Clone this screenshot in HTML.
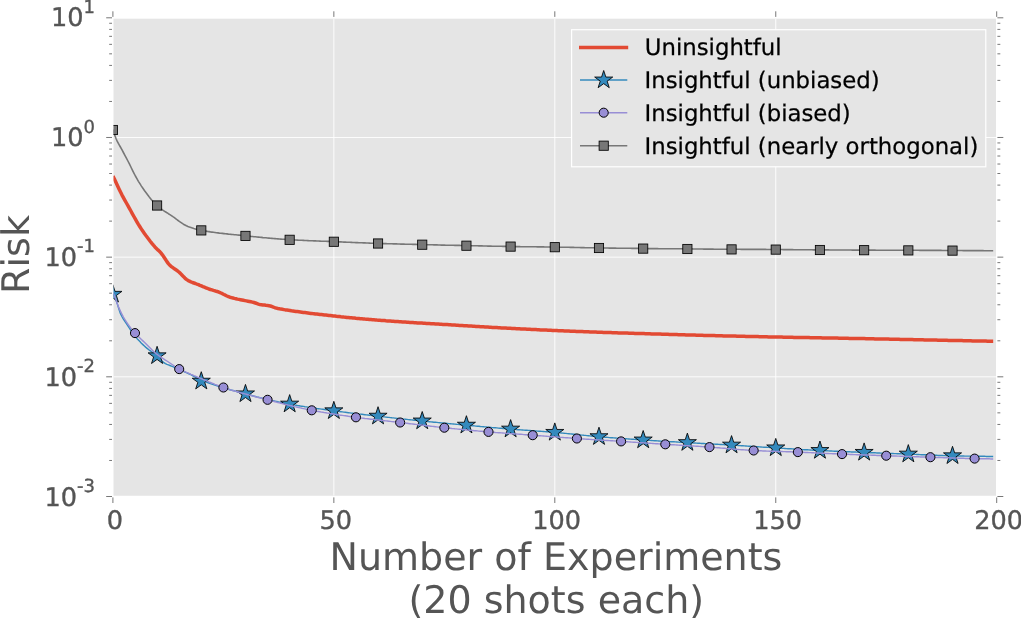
<!DOCTYPE html>
<html><head><meta charset="utf-8"><title>Risk vs Number of Experiments</title>
<style>html,body{margin:0;padding:0;background:#fff;}body{width:1021px;height:618px;overflow:hidden;}svg{display:block;}text{font-family:"DejaVu Sans","Liberation Sans",sans-serif;text-rendering:geometricPrecision;}</style></head><body>
<svg width="1021" height="618" viewBox="0 0 1021 618">
<rect x="0" y="0" width="1021" height="618" fill="#fff"/>
<defs><clipPath id="ax"><rect x="113.50" y="18.70" width="882.50" height="477.05"/></clipPath></defs>
<rect x="113.50" y="18.70" width="882.50" height="477.05" fill="#E5E5E5"/>
<g stroke="#fff" stroke-width="0.9" clip-path="url(#ax)">
<line x1="333.85" y1="18.70" x2="333.85" y2="495.75"/>
<line x1="554.80" y1="18.70" x2="554.80" y2="495.75"/>
<line x1="775.75" y1="18.70" x2="775.75" y2="495.75"/>
<line x1="113.50" y1="137.47" x2="996.00" y2="137.47"/>
<line x1="113.50" y1="257.15" x2="996.00" y2="257.15"/>
<line x1="113.50" y1="376.82" x2="996.00" y2="376.82"/>
</g>
<g stroke="#4a4a4a" stroke-width="0.75">
<line x1="112.90" y1="497.40" x2="112.90" y2="503.00"/>
<line x1="112.90" y1="16.90" x2="112.90" y2="11.30"/>
<line x1="333.85" y1="497.40" x2="333.85" y2="503.00"/>
<line x1="333.85" y1="16.90" x2="333.85" y2="11.30"/>
<line x1="554.80" y1="497.40" x2="554.80" y2="503.00"/>
<line x1="554.80" y1="16.90" x2="554.80" y2="11.30"/>
<line x1="775.75" y1="497.40" x2="775.75" y2="503.00"/>
<line x1="775.75" y1="16.90" x2="775.75" y2="11.30"/>
<line x1="996.70" y1="497.40" x2="996.70" y2="503.00"/>
<line x1="996.70" y1="16.90" x2="996.70" y2="11.30"/>
<line x1="112.00" y1="17.80" x2="106.20" y2="17.80"/>
<line x1="997.40" y1="17.80" x2="1003.30" y2="17.80"/>
<line x1="112.00" y1="137.47" x2="106.20" y2="137.47"/>
<line x1="997.40" y1="137.47" x2="1003.30" y2="137.47"/>
<line x1="112.00" y1="257.15" x2="106.20" y2="257.15"/>
<line x1="997.40" y1="257.15" x2="1003.30" y2="257.15"/>
<line x1="112.00" y1="376.82" x2="106.20" y2="376.82"/>
<line x1="997.40" y1="376.82" x2="1003.30" y2="376.82"/>
<line x1="112.00" y1="496.50" x2="106.20" y2="496.50"/>
<line x1="997.40" y1="496.50" x2="1003.30" y2="496.50"/>
<line x1="112.00" y1="101.45" x2="109.20" y2="101.45"/>
<line x1="997.40" y1="101.45" x2="1000.30" y2="101.45"/>
<line x1="112.00" y1="80.38" x2="109.20" y2="80.38"/>
<line x1="997.40" y1="80.38" x2="1000.30" y2="80.38"/>
<line x1="112.00" y1="65.42" x2="109.20" y2="65.42"/>
<line x1="997.40" y1="65.42" x2="1000.30" y2="65.42"/>
<line x1="112.00" y1="53.83" x2="109.20" y2="53.83"/>
<line x1="997.40" y1="53.83" x2="1000.30" y2="53.83"/>
<line x1="112.00" y1="44.35" x2="109.20" y2="44.35"/>
<line x1="997.40" y1="44.35" x2="1000.30" y2="44.35"/>
<line x1="112.00" y1="36.34" x2="109.20" y2="36.34"/>
<line x1="997.40" y1="36.34" x2="1000.30" y2="36.34"/>
<line x1="112.00" y1="29.40" x2="109.20" y2="29.40"/>
<line x1="997.40" y1="29.40" x2="1000.30" y2="29.40"/>
<line x1="112.00" y1="23.28" x2="109.20" y2="23.28"/>
<line x1="997.40" y1="23.28" x2="1000.30" y2="23.28"/>
<line x1="112.00" y1="221.12" x2="109.20" y2="221.12"/>
<line x1="997.40" y1="221.12" x2="1000.30" y2="221.12"/>
<line x1="112.00" y1="200.05" x2="109.20" y2="200.05"/>
<line x1="997.40" y1="200.05" x2="1000.30" y2="200.05"/>
<line x1="112.00" y1="185.10" x2="109.20" y2="185.10"/>
<line x1="997.40" y1="185.10" x2="1000.30" y2="185.10"/>
<line x1="112.00" y1="173.50" x2="109.20" y2="173.50"/>
<line x1="997.40" y1="173.50" x2="1000.30" y2="173.50"/>
<line x1="112.00" y1="164.02" x2="109.20" y2="164.02"/>
<line x1="997.40" y1="164.02" x2="1000.30" y2="164.02"/>
<line x1="112.00" y1="156.01" x2="109.20" y2="156.01"/>
<line x1="997.40" y1="156.01" x2="1000.30" y2="156.01"/>
<line x1="112.00" y1="149.07" x2="109.20" y2="149.07"/>
<line x1="997.40" y1="149.07" x2="1000.30" y2="149.07"/>
<line x1="112.00" y1="142.95" x2="109.20" y2="142.95"/>
<line x1="997.40" y1="142.95" x2="1000.30" y2="142.95"/>
<line x1="112.00" y1="340.80" x2="109.20" y2="340.80"/>
<line x1="997.40" y1="340.80" x2="1000.30" y2="340.80"/>
<line x1="112.00" y1="319.73" x2="109.20" y2="319.73"/>
<line x1="997.40" y1="319.73" x2="1000.30" y2="319.73"/>
<line x1="112.00" y1="304.77" x2="109.20" y2="304.77"/>
<line x1="997.40" y1="304.77" x2="1000.30" y2="304.77"/>
<line x1="112.00" y1="293.18" x2="109.20" y2="293.18"/>
<line x1="997.40" y1="293.18" x2="1000.30" y2="293.18"/>
<line x1="112.00" y1="283.70" x2="109.20" y2="283.70"/>
<line x1="997.40" y1="283.70" x2="1000.30" y2="283.70"/>
<line x1="112.00" y1="275.69" x2="109.20" y2="275.69"/>
<line x1="997.40" y1="275.69" x2="1000.30" y2="275.69"/>
<line x1="112.00" y1="268.75" x2="109.20" y2="268.75"/>
<line x1="997.40" y1="268.75" x2="1000.30" y2="268.75"/>
<line x1="112.00" y1="262.63" x2="109.20" y2="262.63"/>
<line x1="997.40" y1="262.63" x2="1000.30" y2="262.63"/>
<line x1="112.00" y1="460.47" x2="109.20" y2="460.47"/>
<line x1="997.40" y1="460.47" x2="1000.30" y2="460.47"/>
<line x1="112.00" y1="439.40" x2="109.20" y2="439.40"/>
<line x1="997.40" y1="439.40" x2="1000.30" y2="439.40"/>
<line x1="112.00" y1="424.45" x2="109.20" y2="424.45"/>
<line x1="997.40" y1="424.45" x2="1000.30" y2="424.45"/>
<line x1="112.00" y1="412.85" x2="109.20" y2="412.85"/>
<line x1="997.40" y1="412.85" x2="1000.30" y2="412.85"/>
<line x1="112.00" y1="403.37" x2="109.20" y2="403.37"/>
<line x1="997.40" y1="403.37" x2="1000.30" y2="403.37"/>
<line x1="112.00" y1="395.36" x2="109.20" y2="395.36"/>
<line x1="997.40" y1="395.36" x2="1000.30" y2="395.36"/>
<line x1="112.00" y1="388.42" x2="109.20" y2="388.42"/>
<line x1="997.40" y1="388.42" x2="1000.30" y2="388.42"/>
<line x1="112.00" y1="382.30" x2="109.20" y2="382.30"/>
<line x1="997.40" y1="382.30" x2="1000.30" y2="382.30"/>
</g>
<g clip-path="url(#ax)" fill="none" stroke-linejoin="round">
<path d="M112.9 176.1 L114.4 179.1 L115.9 182.3 L117.4 185.5 L118.9 188.7 L120.4 191.8 L121.9 194.8 L123.4 197.6 L124.9 200.3 L126.4 203.0 L127.9 205.6 L129.4 208.3 L130.9 211.0 L132.4 213.8 L133.9 216.5 L135.4 219.2 L136.9 221.8 L138.4 224.4 L139.9 226.8 L141.4 229.1 L142.9 231.3 L144.4 233.4 L145.9 235.5 L147.4 237.5 L148.9 239.5 L150.4 241.5 L151.9 243.4 L153.4 245.2 L154.9 246.9 L156.4 248.4 L157.9 249.9 L159.4 251.3 L160.9 252.9 L162.4 254.8 L163.9 257.0 L165.4 259.3 L166.9 261.6 L168.4 263.6 L169.9 265.3 L171.4 266.6 L172.9 267.7 L174.4 268.8 L175.9 269.8 L177.4 270.8 L178.9 272.0 L180.4 273.4 L181.9 275.0 L183.4 276.6 L184.9 278.1 L186.4 279.4 L187.9 280.4 L189.4 281.2 L190.9 281.9 L192.4 282.5 L193.9 283.0 L195.4 283.5 L196.9 284.1 L198.4 284.6 L199.9 285.3 L201.4 285.9 L202.9 286.6 L204.4 287.2 L205.9 287.8 L207.4 288.4 L208.9 289.0 L210.4 289.5 L211.9 289.9 L213.4 290.4 L214.9 290.8 L216.4 291.3 L217.9 291.7 L219.4 292.3 L220.9 293.0 L222.4 293.7 L223.9 294.5 L225.4 295.2 L226.9 296.0 L228.4 296.6 L229.9 297.2 L231.4 297.6 L232.9 298.0 L234.4 298.4 L235.9 298.7 L237.4 299.1 L238.9 299.4 L240.4 299.7 L241.9 300.0 L243.4 300.3 L244.9 300.6 L246.4 300.9 L247.9 301.2 L249.4 301.5 L250.9 301.8 L252.4 302.1 L253.9 302.5 L255.4 303.0 L256.9 303.5 L258.4 304.1 L259.9 304.5 L261.4 304.7 L262.9 304.9 L264.4 305.1 L265.9 305.3 L267.4 305.4 L268.9 305.7 L270.4 306.0 L271.9 306.5 L273.4 307.2 L274.9 307.7 L276.4 308.1 L277.9 308.5 L279.4 308.8 L280.9 309.1 L282.4 309.3 L283.9 309.6 L285.4 309.9 L286.9 310.1 L288.4 310.3 L289.9 310.5 L291.4 310.8 L292.9 311.0 L294.4 311.2 L295.9 311.4 L297.4 311.6 L298.9 311.8 L300.4 312.0 L301.9 312.2 L303.4 312.4 L304.9 312.6 L306.4 312.8 L307.9 313.0 L309.4 313.2 L310.9 313.4 L312.4 313.6 L313.9 313.7 L315.4 313.9 L316.9 314.1 L318.4 314.3 L319.9 314.5 L321.4 314.6 L322.9 314.8 L324.4 315.0 L325.9 315.1 L327.4 315.3 L328.9 315.5 L330.4 315.6 L331.9 315.8 L333.4 316.0 L334.9 316.1 L336.4 316.3 L337.9 316.4 L339.4 316.6 L340.9 316.8 L342.4 316.9 L343.9 317.1 L345.4 317.2 L346.9 317.4 L348.4 317.5 L349.9 317.7 L351.4 317.8 L352.9 318.0 L354.4 318.1 L355.9 318.3 L357.4 318.4 L358.9 318.5 L360.4 318.7 L361.9 318.8 L363.4 318.9 L364.9 319.1 L366.4 319.2 L367.9 319.3 L369.4 319.5 L370.9 319.6 L372.4 319.7 L373.9 319.8 L375.4 319.9 L376.9 320.1 L378.4 320.2 L379.9 320.3 L381.4 320.4 L382.9 320.5 L384.4 320.6 L385.9 320.8 L387.4 320.9 L388.9 321.0 L390.4 321.1 L391.9 321.2 L393.4 321.3 L394.9 321.4 L396.4 321.5 L397.9 321.6 L399.4 321.7 L400.9 321.8 L402.4 321.9 L403.9 322.0 L405.4 322.1 L406.9 322.2 L408.4 322.3 L409.9 322.4 L411.4 322.5 L412.9 322.6 L414.4 322.7 L415.9 322.8 L417.4 322.9 L418.9 323.0 L420.4 323.1 L421.9 323.1 L423.4 323.2 L424.9 323.3 L426.4 323.4 L427.9 323.5 L429.4 323.6 L430.9 323.7 L432.4 323.8 L433.9 323.8 L435.4 323.9 L436.9 324.0 L438.4 324.1 L439.9 324.2 L441.4 324.3 L442.9 324.4 L444.4 324.5 L445.9 324.6 L447.4 324.6 L448.9 324.7 L450.4 324.8 L451.9 324.9 L453.4 325.0 L454.9 325.1 L456.4 325.2 L457.9 325.3 L459.4 325.4 L460.9 325.5 L462.4 325.6 L463.9 325.7 L465.4 325.8 L466.9 325.8 L468.4 325.9 L469.9 326.0 L471.4 326.1 L472.9 326.2 L474.4 326.3 L475.9 326.4 L477.4 326.5 L478.9 326.6 L480.4 326.7 L481.9 326.8 L483.4 326.8 L484.9 326.9 L486.4 327.0 L487.9 327.1 L489.4 327.2 L490.9 327.3 L492.4 327.4 L493.9 327.4 L495.4 327.5 L496.9 327.6 L498.4 327.7 L499.9 327.8 L501.4 327.9 L502.9 327.9 L504.4 328.0 L505.9 328.1 L507.4 328.2 L508.9 328.3 L510.4 328.3 L511.9 328.4 L513.4 328.5 L514.9 328.6 L516.4 328.7 L517.9 328.7 L519.4 328.8 L520.9 328.9 L522.4 329.0 L523.9 329.0 L525.4 329.1 L526.9 329.2 L528.4 329.3 L529.9 329.3 L531.4 329.4 L532.9 329.5 L534.4 329.6 L535.9 329.6 L537.4 329.7 L538.9 329.8 L540.4 329.9 L541.9 329.9 L543.4 330.0 L544.9 330.1 L546.4 330.1 L547.9 330.2 L549.4 330.3 L550.9 330.3 L552.4 330.4 L553.9 330.5 L555.4 330.5 L556.9 330.6 L558.4 330.7 L559.9 330.7 L561.4 330.8 L562.9 330.8 L564.4 330.9 L565.9 331.0 L567.4 331.0 L568.9 331.1 L570.4 331.2 L571.9 331.2 L573.4 331.3 L574.9 331.3 L576.4 331.4 L577.9 331.4 L579.4 331.5 L580.9 331.6 L582.4 331.6 L583.9 331.7 L585.4 331.7 L586.9 331.8 L588.4 331.8 L589.9 331.9 L591.4 331.9 L592.9 332.0 L594.4 332.0 L595.9 332.1 L597.4 332.2 L598.9 332.2 L600.4 332.3 L601.9 332.3 L603.4 332.4 L604.9 332.4 L606.4 332.5 L607.9 332.5 L609.4 332.6 L610.9 332.6 L612.4 332.7 L613.9 332.7 L615.4 332.8 L616.9 332.8 L618.4 332.9 L619.9 332.9 L621.4 333.0 L622.9 333.0 L624.4 333.0 L625.9 333.1 L627.4 333.1 L628.9 333.2 L630.4 333.2 L631.9 333.3 L633.4 333.3 L634.9 333.4 L636.4 333.4 L637.9 333.5 L639.4 333.5 L640.9 333.6 L642.4 333.6 L643.9 333.6 L645.4 333.7 L646.9 333.7 L648.4 333.8 L649.9 333.8 L651.4 333.9 L652.9 333.9 L654.4 334.0 L655.9 334.0 L657.4 334.0 L658.9 334.1 L660.4 334.1 L661.9 334.2 L663.4 334.2 L664.9 334.3 L666.4 334.3 L667.9 334.3 L669.4 334.4 L670.9 334.4 L672.4 334.5 L673.9 334.5 L675.4 334.6 L676.9 334.6 L678.4 334.7 L679.9 334.7 L681.4 334.7 L682.9 334.8 L684.4 334.8 L685.9 334.9 L687.4 334.9 L688.9 335.0 L690.4 335.0 L691.9 335.0 L693.4 335.1 L694.9 335.1 L696.4 335.2 L697.9 335.2 L699.4 335.2 L700.9 335.3 L702.4 335.3 L703.9 335.4 L705.4 335.4 L706.9 335.4 L708.4 335.5 L709.9 335.5 L711.4 335.6 L712.9 335.6 L714.4 335.6 L715.9 335.7 L717.4 335.7 L718.9 335.7 L720.4 335.8 L721.9 335.8 L723.4 335.9 L724.9 335.9 L726.4 335.9 L727.9 336.0 L729.4 336.0 L730.9 336.0 L732.4 336.1 L733.9 336.1 L735.4 336.1 L736.9 336.2 L738.4 336.2 L739.9 336.2 L741.4 336.3 L742.9 336.3 L744.4 336.3 L745.9 336.4 L747.4 336.4 L748.9 336.4 L750.4 336.5 L751.9 336.5 L753.4 336.5 L754.9 336.6 L756.4 336.6 L757.9 336.6 L759.4 336.7 L760.9 336.7 L762.4 336.7 L763.9 336.8 L765.4 336.8 L766.9 336.8 L768.4 336.9 L769.9 336.9 L771.4 336.9 L772.9 337.0 L774.4 337.0 L775.9 337.0 L777.4 337.0 L778.9 337.1 L780.4 337.1 L781.9 337.1 L783.4 337.2 L784.9 337.2 L786.4 337.2 L787.9 337.2 L789.4 337.3 L790.9 337.3 L792.4 337.3 L793.9 337.4 L795.4 337.4 L796.9 337.4 L798.4 337.4 L799.9 337.5 L801.4 337.5 L802.9 337.5 L804.4 337.6 L805.9 337.6 L807.4 337.6 L808.9 337.6 L810.4 337.7 L811.9 337.7 L813.4 337.7 L814.9 337.7 L816.4 337.8 L817.9 337.8 L819.4 337.8 L820.9 337.8 L822.4 337.9 L823.9 337.9 L825.4 337.9 L826.9 338.0 L828.4 338.0 L829.9 338.0 L831.4 338.0 L832.9 338.1 L834.4 338.1 L835.9 338.1 L837.4 338.1 L838.9 338.2 L840.4 338.2 L841.9 338.2 L843.4 338.2 L844.9 338.3 L846.4 338.3 L847.9 338.3 L849.4 338.4 L850.9 338.4 L852.4 338.4 L853.9 338.4 L855.4 338.5 L856.9 338.5 L858.4 338.5 L859.9 338.6 L861.4 338.6 L862.9 338.6 L864.4 338.6 L865.9 338.7 L867.4 338.7 L868.9 338.7 L870.4 338.8 L871.9 338.8 L873.4 338.8 L874.9 338.9 L876.4 338.9 L877.9 338.9 L879.4 338.9 L880.9 339.0 L882.4 339.0 L883.9 339.0 L885.4 339.1 L886.9 339.1 L888.4 339.1 L889.9 339.2 L891.4 339.2 L892.9 339.2 L894.4 339.2 L895.9 339.3 L897.4 339.3 L898.9 339.3 L900.4 339.4 L901.9 339.4 L903.4 339.4 L904.9 339.5 L906.4 339.5 L907.9 339.5 L909.4 339.6 L910.9 339.6 L912.4 339.6 L913.9 339.7 L915.4 339.7 L916.9 339.7 L918.4 339.7 L919.9 339.8 L921.4 339.8 L922.9 339.8 L924.4 339.9 L925.9 339.9 L927.4 339.9 L928.9 340.0 L930.4 340.0 L931.9 340.0 L933.4 340.1 L934.9 340.1 L936.4 340.1 L937.9 340.2 L939.4 340.2 L940.9 340.2 L942.4 340.2 L943.9 340.3 L945.4 340.3 L946.9 340.3 L948.4 340.4 L949.9 340.4 L951.4 340.4 L952.9 340.5 L954.4 340.5 L955.9 340.5 L957.4 340.6 L958.9 340.6 L960.4 340.6 L961.9 340.6 L963.4 340.7 L964.9 340.7 L966.4 340.7 L967.9 340.8 L969.4 340.8 L970.9 340.8 L972.4 340.9 L973.9 340.9 L975.4 340.9 L976.9 341.0 L978.4 341.0 L979.9 341.0 L981.4 341.1 L982.9 341.1 L984.4 341.1 L985.9 341.1 L987.4 341.2 L988.9 341.2 L990.4 341.2 L991.9 341.3 L993.2 341.3" stroke="#E24A33" stroke-width="3.5"/>
<path d="M112.9 294.3 L114.4 296.9 L115.9 300.1 L117.4 304.1 L118.9 309.0 L120.4 313.4 L121.9 316.5 L123.4 319.1 L124.9 321.4 L126.4 323.6 L127.9 325.9 L129.4 328.2 L130.9 330.5 L132.4 332.7 L133.9 334.7 L135.4 336.6 L136.9 338.4 L138.4 340.0 L139.9 341.6 L141.4 343.2 L142.9 344.6 L144.4 346.0 L145.9 347.4 L147.4 348.6 L148.9 349.8 L150.4 350.9 L151.9 352.0 L153.4 353.1 L154.9 354.2 L156.4 355.4 L157.9 356.7 L159.4 358.3 L160.9 359.9 L162.4 361.4 L163.9 362.7 L165.4 363.7 L166.9 364.4 L168.4 364.9 L169.9 365.5 L171.4 366.1 L172.9 366.7 L174.4 367.4 L175.9 368.1 L177.4 368.8 L178.9 369.5 L180.4 370.1 L181.9 370.7 L183.4 371.4 L184.9 372.0 L186.4 372.6 L187.9 373.3 L189.4 374.0 L190.9 374.7 L192.4 375.5 L193.9 376.3 L195.4 377.1 L196.9 377.9 L198.4 378.7 L199.9 379.5 L201.4 380.1 L202.9 380.7 L204.4 381.3 L205.9 381.9 L207.4 382.5 L208.9 383.0 L210.4 383.6 L211.9 384.1 L213.4 384.6 L214.9 385.1 L216.4 385.6 L217.9 386.1 L219.4 386.6 L220.9 387.0 L222.4 387.5 L223.9 387.9 L225.4 388.4 L226.9 388.8 L228.4 389.3 L229.9 389.7 L231.4 390.1 L232.9 390.5 L234.4 390.9 L235.9 391.3 L237.4 391.7 L238.9 392.1 L240.4 392.6 L241.9 393.0 L243.4 393.3 L244.9 393.7 L246.4 394.1 L247.9 394.5 L249.4 394.9 L250.9 395.3 L252.4 395.7 L253.9 396.1 L255.4 396.5 L256.9 396.9 L258.4 397.2 L259.9 397.6 L261.4 398.0 L262.9 398.3 L264.4 398.7 L265.9 399.1 L267.4 399.4 L268.9 399.8 L270.4 400.1 L271.9 400.5 L273.4 400.8 L274.9 401.1 L276.4 401.4 L277.9 401.8 L279.4 402.1 L280.9 402.4 L282.4 402.7 L283.9 403.0 L285.4 403.3 L286.9 403.6 L288.4 403.9 L289.9 404.1 L291.4 404.4 L292.9 404.7 L294.4 404.9 L295.9 405.2 L297.4 405.5 L298.9 405.7 L300.4 406.0 L301.9 406.2 L303.4 406.4 L304.9 406.7 L306.4 406.9 L307.9 407.1 L309.4 407.4 L310.9 407.6 L312.4 407.8 L313.9 408.0 L315.4 408.2 L316.9 408.5 L318.4 408.7 L319.9 408.9 L321.4 409.1 L322.9 409.3 L324.4 409.5 L325.9 409.7 L327.4 409.9 L328.9 410.1 L330.4 410.3 L331.9 410.5 L333.4 410.7 L334.9 410.9 L336.4 411.1 L337.9 411.3 L339.4 411.5 L340.9 411.7 L342.4 411.9 L343.9 412.1 L345.4 412.3 L346.9 412.5 L348.4 412.7 L349.9 412.9 L351.4 413.1 L352.9 413.2 L354.4 413.4 L355.9 413.6 L357.4 413.8 L358.9 414.0 L360.4 414.1 L361.9 414.3 L363.4 414.5 L364.9 414.7 L366.4 414.9 L367.9 415.0 L369.4 415.2 L370.9 415.4 L372.4 415.5 L373.9 415.7 L375.4 415.9 L376.9 416.1 L378.4 416.2 L379.9 416.4 L381.4 416.6 L382.9 416.8 L384.4 416.9 L385.9 417.1 L387.4 417.3 L388.9 417.4 L390.4 417.6 L391.9 417.8 L393.4 417.9 L394.9 418.1 L396.4 418.3 L397.9 418.4 L399.4 418.6 L400.9 418.8 L402.4 418.9 L403.9 419.1 L405.4 419.2 L406.9 419.4 L408.4 419.6 L409.9 419.7 L411.4 419.9 L412.9 420.0 L414.4 420.2 L415.9 420.4 L417.4 420.5 L418.9 420.7 L420.4 420.8 L421.9 421.0 L423.4 421.1 L424.9 421.3 L426.4 421.4 L427.9 421.6 L429.4 421.7 L430.9 421.9 L432.4 422.0 L433.9 422.2 L435.4 422.3 L436.9 422.4 L438.4 422.6 L439.9 422.7 L441.4 422.9 L442.9 423.0 L444.4 423.2 L445.9 423.3 L447.4 423.4 L448.9 423.6 L450.4 423.7 L451.9 423.9 L453.4 424.0 L454.9 424.1 L456.4 424.3 L457.9 424.4 L459.4 424.6 L460.9 424.7 L462.4 424.8 L463.9 425.0 L465.4 425.1 L466.9 425.2 L468.4 425.4 L469.9 425.5 L471.4 425.7 L472.9 425.8 L474.4 425.9 L475.9 426.1 L477.4 426.2 L478.9 426.3 L480.4 426.5 L481.9 426.6 L483.4 426.7 L484.9 426.9 L486.4 427.0 L487.9 427.2 L489.4 427.3 L490.9 427.4 L492.4 427.6 L493.9 427.7 L495.4 427.8 L496.9 427.9 L498.4 428.1 L499.9 428.2 L501.4 428.3 L502.9 428.5 L504.4 428.6 L505.9 428.7 L507.4 428.8 L508.9 429.0 L510.4 429.1 L511.9 429.2 L513.4 429.3 L514.9 429.4 L516.4 429.6 L517.9 429.7 L519.4 429.8 L520.9 429.9 L522.4 430.0 L523.9 430.1 L525.4 430.2 L526.9 430.3 L528.4 430.4 L529.9 430.5 L531.4 430.6 L532.9 430.7 L534.4 430.9 L535.9 431.0 L537.4 431.1 L538.9 431.2 L540.4 431.3 L541.9 431.4 L543.4 431.5 L544.9 431.6 L546.4 431.7 L547.9 431.8 L549.4 432.0 L550.9 432.1 L552.4 432.2 L553.9 432.3 L555.4 432.5 L556.9 432.6 L558.4 432.7 L559.9 432.9 L561.4 433.0 L562.9 433.1 L564.4 433.3 L565.9 433.4 L567.4 433.6 L568.9 433.7 L570.4 433.9 L571.9 434.0 L573.4 434.2 L574.9 434.3 L576.4 434.5 L577.9 434.7 L579.4 434.8 L580.9 435.0 L582.4 435.1 L583.9 435.3 L585.4 435.4 L586.9 435.6 L588.4 435.7 L589.9 435.9 L591.4 436.0 L592.9 436.2 L594.4 436.3 L595.9 436.4 L597.4 436.6 L598.9 436.7 L600.4 436.8 L601.9 436.9 L603.4 437.1 L604.9 437.2 L606.4 437.3 L607.9 437.4 L609.4 437.6 L610.9 437.7 L612.4 437.8 L613.9 437.9 L615.4 438.0 L616.9 438.1 L618.4 438.3 L619.9 438.4 L621.4 438.5 L622.9 438.6 L624.4 438.7 L625.9 438.8 L627.4 438.9 L628.9 439.0 L630.4 439.1 L631.9 439.2 L633.4 439.3 L634.9 439.4 L636.4 439.5 L637.9 439.6 L639.4 439.7 L640.9 439.8 L642.4 439.9 L643.9 440.0 L645.4 440.1 L646.9 440.2 L648.4 440.3 L649.9 440.4 L651.4 440.5 L652.9 440.6 L654.4 440.7 L655.9 440.8 L657.4 440.9 L658.9 441.0 L660.4 441.1 L661.9 441.2 L663.4 441.2 L664.9 441.3 L666.4 441.4 L667.9 441.5 L669.4 441.6 L670.9 441.7 L672.4 441.8 L673.9 441.8 L675.4 441.9 L676.9 442.0 L678.4 442.1 L679.9 442.2 L681.4 442.3 L682.9 442.3 L684.4 442.4 L685.9 442.5 L687.4 442.6 L688.9 442.7 L690.4 442.8 L691.9 442.9 L693.4 442.9 L694.9 443.0 L696.4 443.1 L697.9 443.2 L699.4 443.3 L700.9 443.4 L702.4 443.4 L703.9 443.5 L705.4 443.6 L706.9 443.7 L708.4 443.8 L709.9 443.9 L711.4 443.9 L712.9 444.0 L714.4 444.1 L715.9 444.2 L717.4 444.3 L718.9 444.4 L720.4 444.5 L721.9 444.5 L723.4 444.6 L724.9 444.7 L726.4 444.8 L727.9 444.9 L729.4 445.0 L730.9 445.1 L732.4 445.2 L733.9 445.2 L735.4 445.3 L736.9 445.4 L738.4 445.5 L739.9 445.6 L741.4 445.7 L742.9 445.8 L744.4 445.9 L745.9 446.0 L747.4 446.1 L748.9 446.2 L750.4 446.3 L751.9 446.4 L753.4 446.5 L754.9 446.6 L756.4 446.7 L757.9 446.8 L759.4 446.9 L760.9 447.0 L762.4 447.1 L763.9 447.2 L765.4 447.3 L766.9 447.3 L768.4 447.4 L769.9 447.5 L771.4 447.6 L772.9 447.7 L774.4 447.8 L775.9 447.9 L777.4 448.0 L778.9 448.1 L780.4 448.2 L781.9 448.3 L783.4 448.4 L784.9 448.5 L786.4 448.6 L787.9 448.7 L789.4 448.7 L790.9 448.8 L792.4 448.9 L793.9 449.0 L795.4 449.1 L796.9 449.2 L798.4 449.3 L799.9 449.4 L801.4 449.5 L802.9 449.6 L804.4 449.7 L805.9 449.7 L807.4 449.8 L808.9 449.9 L810.4 450.0 L811.9 450.1 L813.4 450.2 L814.9 450.2 L816.4 450.3 L817.9 450.4 L819.4 450.5 L820.9 450.5 L822.4 450.6 L823.9 450.7 L825.4 450.8 L826.9 450.8 L828.4 450.9 L829.9 451.0 L831.4 451.0 L832.9 451.1 L834.4 451.2 L835.9 451.2 L837.4 451.3 L838.9 451.4 L840.4 451.4 L841.9 451.5 L843.4 451.6 L844.9 451.6 L846.4 451.7 L847.9 451.7 L849.4 451.8 L850.9 451.9 L852.4 451.9 L853.9 452.0 L855.4 452.0 L856.9 452.1 L858.4 452.2 L859.9 452.2 L861.4 452.3 L862.9 452.4 L864.4 452.4 L865.9 452.5 L867.4 452.5 L868.9 452.6 L870.4 452.7 L871.9 452.7 L873.4 452.8 L874.9 452.8 L876.4 452.9 L877.9 452.9 L879.4 453.0 L880.9 453.1 L882.4 453.1 L883.9 453.2 L885.4 453.2 L886.9 453.3 L888.4 453.3 L889.9 453.4 L891.4 453.5 L892.9 453.5 L894.4 453.6 L895.9 453.6 L897.4 453.7 L898.9 453.7 L900.4 453.8 L901.9 453.9 L903.4 453.9 L904.9 454.0 L906.4 454.0 L907.9 454.1 L909.4 454.1 L910.9 454.2 L912.4 454.3 L913.9 454.3 L915.4 454.4 L916.9 454.5 L918.4 454.5 L919.9 454.6 L921.4 454.7 L922.9 454.7 L924.4 454.8 L925.9 454.8 L927.4 454.9 L928.9 455.0 L930.4 455.0 L931.9 455.1 L933.4 455.2 L934.9 455.2 L936.4 455.3 L937.9 455.4 L939.4 455.4 L940.9 455.5 L942.4 455.5 L943.9 455.6 L945.4 455.6 L946.9 455.7 L948.4 455.7 L949.9 455.7 L951.4 455.8 L952.9 455.8 L954.4 455.8 L955.9 455.9 L957.4 455.9 L958.9 455.9 L960.4 456.0 L961.9 456.0 L963.4 456.0 L964.9 456.1 L966.4 456.1 L967.9 456.1 L969.4 456.1 L970.9 456.2 L972.4 456.2 L973.9 456.2 L975.4 456.2 L976.9 456.3 L978.4 456.3 L979.9 456.3 L981.4 456.3 L982.9 456.3 L984.4 456.3 L985.9 456.4 L987.4 456.4 L988.9 456.4 L990.4 456.4 L991.9 456.4 L993.2 456.4" stroke="#348ABD" stroke-width="1.45"/>
<g fill="#348ABD" stroke="#000" stroke-width="0.85" stroke-linejoin="miter">
<polygon points="112.90,284.80 110.77,291.36 103.86,291.36 109.45,295.42 107.32,301.99 112.90,297.93 118.48,301.99 116.35,295.42 121.94,291.36 115.03,291.36"/>
<polygon points="157.09,346.30 154.96,352.86 148.05,352.86 153.64,356.92 151.51,363.49 157.09,359.43 162.67,363.49 160.54,356.92 166.13,352.86 159.22,352.86"/>
<polygon points="201.28,371.70 199.15,378.26 192.24,378.26 197.83,382.32 195.70,388.89 201.28,384.83 206.86,388.89 204.73,382.32 210.32,378.26 203.41,378.26"/>
<polygon points="245.47,384.40 243.34,390.96 236.43,390.96 242.02,395.02 239.89,401.59 245.47,397.53 251.05,401.59 248.92,395.02 254.51,390.96 247.60,390.96"/>
<polygon points="289.66,394.60 287.53,401.16 280.62,401.16 286.21,405.22 284.08,411.79 289.66,407.73 295.24,411.79 293.11,405.22 298.70,401.16 291.79,401.16"/>
<polygon points="333.85,401.30 331.72,407.86 324.81,407.86 330.40,411.92 328.27,418.49 333.85,414.43 339.43,418.49 337.30,411.92 342.89,407.86 335.98,407.86"/>
<polygon points="378.04,406.70 375.91,413.26 369.00,413.26 374.59,417.32 372.46,423.89 378.04,419.83 383.62,423.89 381.49,417.32 387.08,413.26 380.17,413.26"/>
<polygon points="422.23,411.50 420.10,418.06 413.19,418.06 418.78,422.12 416.65,428.69 422.23,424.63 427.81,428.69 425.68,422.12 431.27,418.06 424.36,418.06"/>
<polygon points="466.42,415.70 464.29,422.26 457.38,422.26 462.97,426.32 460.84,432.89 466.42,428.83 472.00,432.89 469.87,426.32 475.46,422.26 468.55,422.26"/>
<polygon points="510.61,419.60 508.48,426.16 501.57,426.16 507.16,430.22 505.03,436.79 510.61,432.73 516.19,436.79 514.06,430.22 519.65,426.16 512.74,426.16"/>
<polygon points="554.80,422.90 552.67,429.46 545.76,429.46 551.35,433.52 549.22,440.09 554.80,436.03 560.38,440.09 558.25,433.52 563.84,429.46 556.93,429.46"/>
<polygon points="598.99,427.20 596.86,433.76 589.95,433.76 595.54,437.82 593.41,444.39 598.99,440.33 604.57,444.39 602.44,437.82 608.03,433.76 601.12,433.76"/>
<polygon points="643.18,430.50 641.05,437.06 634.14,437.06 639.73,441.12 637.60,447.69 643.18,443.63 648.76,447.69 646.63,441.12 652.22,437.06 645.31,437.06"/>
<polygon points="687.37,433.10 685.24,439.66 678.33,439.66 683.92,443.72 681.79,450.29 687.37,446.23 692.95,450.29 690.82,443.72 696.41,439.66 689.50,439.66"/>
<polygon points="731.56,435.60 729.43,442.16 722.52,442.16 728.11,446.22 725.98,452.79 731.56,448.73 737.14,452.79 735.01,446.22 740.60,442.16 733.69,442.16"/>
<polygon points="775.75,438.40 773.62,444.96 766.71,444.96 772.30,449.02 770.17,455.59 775.75,451.53 781.33,455.59 779.20,449.02 784.79,444.96 777.88,444.96"/>
<polygon points="819.94,441.00 817.81,447.56 810.90,447.56 816.49,451.62 814.36,458.19 819.94,454.13 825.52,458.19 823.39,451.62 828.98,447.56 822.07,447.56"/>
<polygon points="864.13,442.90 862.00,449.46 855.09,449.46 860.68,453.52 858.55,460.09 864.13,456.03 869.71,460.09 867.58,453.52 873.17,449.46 866.26,449.46"/>
<polygon points="908.32,444.60 906.19,451.16 899.28,451.16 904.87,455.22 902.74,461.79 908.32,457.73 913.90,461.79 911.77,455.22 917.36,451.16 910.45,451.16"/>
<polygon points="952.51,446.30 950.38,452.86 943.47,452.86 949.06,456.92 946.93,463.49 952.51,459.43 958.09,463.49 955.96,456.92 961.55,452.86 954.64,452.86"/>
</g>
<path d="M112.9 292.5 L114.4 295.5 L115.9 299.6 L117.4 304.0 L118.9 307.9 L120.4 311.1 L121.9 314.2 L123.4 317.0 L124.9 319.5 L126.4 321.9 L127.9 324.1 L129.4 326.2 L130.9 328.1 L132.4 329.9 L133.9 331.7 L135.4 333.4 L136.9 335.0 L138.4 336.5 L139.9 338.0 L141.4 339.5 L142.9 340.9 L144.4 342.3 L145.9 343.8 L147.4 345.3 L148.9 346.8 L150.4 348.3 L151.9 349.8 L153.4 351.2 L154.9 352.6 L156.4 353.9 L157.9 355.0 L159.4 356.1 L160.9 357.2 L162.4 358.2 L163.9 359.1 L165.4 360.1 L166.9 361.0 L168.4 362.0 L169.9 363.0 L171.4 364.0 L172.9 365.0 L174.4 366.0 L175.9 367.0 L177.4 367.9 L178.9 368.7 L180.4 369.5 L181.9 370.3 L183.4 371.0 L184.9 371.6 L186.4 372.3 L187.9 372.9 L189.4 373.6 L190.9 374.3 L192.4 374.9 L193.9 375.6 L195.4 376.2 L196.9 376.8 L198.4 377.5 L199.9 378.1 L201.4 378.7 L202.9 379.4 L204.4 380.0 L205.9 380.6 L207.4 381.2 L208.9 381.9 L210.4 382.5 L211.9 383.1 L213.4 383.7 L214.9 384.4 L216.4 384.9 L217.9 385.5 L219.4 386.1 L220.9 386.6 L222.4 387.2 L223.9 387.7 L225.4 388.2 L226.9 388.7 L228.4 389.1 L229.9 389.6 L231.4 390.1 L232.9 390.5 L234.4 391.0 L235.9 391.4 L237.4 391.8 L238.9 392.3 L240.4 392.7 L241.9 393.1 L243.4 393.5 L244.9 393.9 L246.4 394.3 L247.9 394.7 L249.4 395.1 L250.9 395.5 L252.4 395.9 L253.9 396.3 L255.4 396.7 L256.9 397.1 L258.4 397.5 L259.9 397.8 L261.4 398.2 L262.9 398.6 L264.4 399.0 L265.9 399.4 L267.4 399.8 L268.9 400.1 L270.4 400.5 L271.9 400.9 L273.4 401.3 L274.9 401.7 L276.4 402.1 L277.9 402.5 L279.4 402.8 L280.9 403.2 L282.4 403.6 L283.9 404.0 L285.4 404.4 L286.9 404.7 L288.4 405.1 L289.9 405.5 L291.4 405.8 L292.9 406.2 L294.4 406.6 L295.9 406.9 L297.4 407.3 L298.9 407.6 L300.4 407.9 L301.9 408.3 L303.4 408.6 L304.9 408.9 L306.4 409.2 L307.9 409.5 L309.4 409.8 L310.9 410.1 L312.4 410.4 L313.9 410.7 L315.4 411.0 L316.9 411.3 L318.4 411.5 L319.9 411.8 L321.4 412.1 L322.9 412.3 L324.4 412.6 L325.9 412.8 L327.4 413.1 L328.9 413.3 L330.4 413.6 L331.9 413.8 L333.4 414.0 L334.9 414.3 L336.4 414.5 L337.9 414.7 L339.4 415.0 L340.9 415.2 L342.4 415.4 L343.9 415.6 L345.4 415.8 L346.9 416.0 L348.4 416.3 L349.9 416.5 L351.4 416.7 L352.9 416.9 L354.4 417.1 L355.9 417.3 L357.4 417.5 L358.9 417.7 L360.4 417.9 L361.9 418.1 L363.4 418.3 L364.9 418.5 L366.4 418.6 L367.9 418.8 L369.4 419.0 L370.9 419.2 L372.4 419.3 L373.9 419.5 L375.4 419.7 L376.9 419.9 L378.4 420.0 L379.9 420.2 L381.4 420.4 L382.9 420.5 L384.4 420.7 L385.9 420.9 L387.4 421.0 L388.9 421.2 L390.4 421.4 L391.9 421.6 L393.4 421.7 L394.9 421.9 L396.4 422.1 L397.9 422.2 L399.4 422.4 L400.9 422.6 L402.4 422.8 L403.9 422.9 L405.4 423.1 L406.9 423.3 L408.4 423.5 L409.9 423.7 L411.4 423.9 L412.9 424.0 L414.4 424.2 L415.9 424.4 L417.4 424.6 L418.9 424.8 L420.4 424.9 L421.9 425.1 L423.4 425.3 L424.9 425.5 L426.4 425.7 L427.9 425.8 L429.4 426.0 L430.9 426.2 L432.4 426.4 L433.9 426.5 L435.4 426.7 L436.9 426.9 L438.4 427.1 L439.9 427.2 L441.4 427.4 L442.9 427.5 L444.4 427.7 L445.9 427.9 L447.4 428.0 L448.9 428.2 L450.4 428.3 L451.9 428.5 L453.4 428.6 L454.9 428.8 L456.4 428.9 L457.9 429.1 L459.4 429.2 L460.9 429.4 L462.4 429.5 L463.9 429.7 L465.4 429.8 L466.9 430.0 L468.4 430.1 L469.9 430.2 L471.4 430.4 L472.9 430.5 L474.4 430.7 L475.9 430.8 L477.4 430.9 L478.9 431.1 L480.4 431.2 L481.9 431.3 L483.4 431.5 L484.9 431.6 L486.4 431.7 L487.9 431.8 L489.4 432.0 L490.9 432.1 L492.4 432.2 L493.9 432.3 L495.4 432.5 L496.9 432.6 L498.4 432.7 L499.9 432.8 L501.4 432.9 L502.9 433.0 L504.4 433.1 L505.9 433.3 L507.4 433.4 L508.9 433.5 L510.4 433.6 L511.9 433.7 L513.4 433.8 L514.9 433.9 L516.4 434.0 L517.9 434.1 L519.4 434.2 L520.9 434.3 L522.4 434.4 L523.9 434.6 L525.4 434.7 L526.9 434.8 L528.4 434.9 L529.9 435.0 L531.4 435.1 L532.9 435.2 L534.4 435.3 L535.9 435.4 L537.4 435.6 L538.9 435.7 L540.4 435.8 L541.9 435.9 L543.4 436.0 L544.9 436.1 L546.4 436.2 L547.9 436.4 L549.4 436.5 L550.9 436.6 L552.4 436.7 L553.9 436.8 L555.4 436.9 L556.9 437.0 L558.4 437.1 L559.9 437.3 L561.4 437.4 L562.9 437.5 L564.4 437.6 L565.9 437.7 L567.4 437.8 L568.9 437.9 L570.4 438.0 L571.9 438.1 L573.4 438.3 L574.9 438.4 L576.4 438.5 L577.9 438.6 L579.4 438.7 L580.9 438.8 L582.4 438.9 L583.9 439.0 L585.4 439.1 L586.9 439.2 L588.4 439.3 L589.9 439.4 L591.4 439.5 L592.9 439.6 L594.4 439.7 L595.9 439.8 L597.4 439.9 L598.9 440.0 L600.4 440.1 L601.9 440.2 L603.4 440.3 L604.9 440.4 L606.4 440.5 L607.9 440.5 L609.4 440.6 L610.9 440.7 L612.4 440.8 L613.9 440.9 L615.4 441.0 L616.9 441.1 L618.4 441.2 L619.9 441.3 L621.4 441.4 L622.9 441.5 L624.4 441.6 L625.9 441.7 L627.4 441.8 L628.9 441.9 L630.4 442.0 L631.9 442.1 L633.4 442.2 L634.9 442.3 L636.4 442.4 L637.9 442.5 L639.4 442.6 L640.9 442.7 L642.4 442.8 L643.9 442.9 L645.4 443.0 L646.9 443.1 L648.4 443.2 L649.9 443.3 L651.4 443.4 L652.9 443.5 L654.4 443.6 L655.9 443.7 L657.4 443.8 L658.9 443.9 L660.4 444.0 L661.9 444.1 L663.4 444.2 L664.9 444.3 L666.4 444.4 L667.9 444.5 L669.4 444.6 L670.9 444.7 L672.4 444.8 L673.9 444.8 L675.4 444.9 L676.9 445.0 L678.4 445.1 L679.9 445.2 L681.4 445.3 L682.9 445.4 L684.4 445.5 L685.9 445.6 L687.4 445.7 L688.9 445.8 L690.4 445.9 L691.9 446.0 L693.4 446.0 L694.9 446.1 L696.4 446.2 L697.9 446.3 L699.4 446.4 L700.9 446.5 L702.4 446.6 L703.9 446.7 L705.4 446.8 L706.9 446.9 L708.4 447.0 L709.9 447.1 L711.4 447.2 L712.9 447.3 L714.4 447.5 L715.9 447.6 L717.4 447.7 L718.9 447.8 L720.4 448.0 L721.9 448.1 L723.4 448.2 L724.9 448.3 L726.4 448.5 L727.9 448.6 L729.4 448.7 L730.9 448.9 L732.4 449.0 L733.9 449.1 L735.4 449.2 L736.9 449.4 L738.4 449.5 L739.9 449.6 L741.4 449.7 L742.9 449.8 L744.4 449.9 L745.9 450.0 L747.4 450.1 L748.9 450.2 L750.4 450.3 L751.9 450.4 L753.4 450.5 L754.9 450.6 L756.4 450.6 L757.9 450.7 L759.4 450.8 L760.9 450.8 L762.4 450.9 L763.9 450.9 L765.4 451.0 L766.9 451.1 L768.4 451.1 L769.9 451.2 L771.4 451.2 L772.9 451.3 L774.4 451.3 L775.9 451.4 L777.4 451.4 L778.9 451.4 L780.4 451.5 L781.9 451.5 L783.4 451.6 L784.9 451.6 L786.4 451.7 L787.9 451.7 L789.4 451.8 L790.9 451.8 L792.4 451.9 L793.9 451.9 L795.4 452.0 L796.9 452.1 L798.4 452.1 L799.9 452.2 L801.4 452.2 L802.9 452.3 L804.4 452.4 L805.9 452.4 L807.4 452.5 L808.9 452.6 L810.4 452.6 L811.9 452.7 L813.4 452.8 L814.9 452.9 L816.4 452.9 L817.9 453.0 L819.4 453.1 L820.9 453.1 L822.4 453.2 L823.9 453.3 L825.4 453.4 L826.9 453.4 L828.4 453.5 L829.9 453.6 L831.4 453.6 L832.9 453.7 L834.4 453.8 L835.9 453.8 L837.4 453.9 L838.9 454.0 L840.4 454.0 L841.9 454.1 L843.4 454.2 L844.9 454.2 L846.4 454.3 L847.9 454.3 L849.4 454.4 L850.9 454.4 L852.4 454.5 L853.9 454.6 L855.4 454.6 L856.9 454.7 L858.4 454.7 L859.9 454.8 L861.4 454.8 L862.9 454.9 L864.4 454.9 L865.9 455.0 L867.4 455.0 L868.9 455.1 L870.4 455.1 L871.9 455.2 L873.4 455.3 L874.9 455.3 L876.4 455.4 L877.9 455.4 L879.4 455.5 L880.9 455.5 L882.4 455.6 L883.9 455.6 L885.4 455.7 L886.9 455.7 L888.4 455.8 L889.9 455.8 L891.4 455.9 L892.9 455.9 L894.4 456.0 L895.9 456.0 L897.4 456.1 L898.9 456.1 L900.4 456.2 L901.9 456.2 L903.4 456.3 L904.9 456.3 L906.4 456.4 L907.9 456.4 L909.4 456.5 L910.9 456.5 L912.4 456.6 L913.9 456.7 L915.4 456.7 L916.9 456.8 L918.4 456.8 L919.9 456.9 L921.4 456.9 L922.9 457.0 L924.4 457.0 L925.9 457.1 L927.4 457.1 L928.9 457.2 L930.4 457.2 L931.9 457.2 L933.4 457.3 L934.9 457.4 L936.4 457.4 L937.9 457.5 L939.4 457.5 L940.9 457.6 L942.4 457.6 L943.9 457.7 L945.4 457.7 L946.9 457.8 L948.4 457.8 L949.9 457.9 L951.4 457.9 L952.9 458.0 L954.4 458.0 L955.9 458.1 L957.4 458.1 L958.9 458.2 L960.4 458.2 L961.9 458.3 L963.4 458.3 L964.9 458.4 L966.4 458.4 L967.9 458.4 L969.4 458.5 L970.9 458.5 L972.4 458.6 L973.9 458.6 L975.4 458.6 L976.9 458.6 L978.4 458.7 L979.9 458.7 L981.4 458.7 L982.9 458.8 L984.4 458.8 L985.9 458.8 L987.4 458.8 L988.9 458.8 L990.4 458.9 L991.9 458.9 L993.2 458.9" stroke="#988ED5" stroke-width="1.45"/>
<g fill="#988ED5" stroke="#000" stroke-width="1.0">
<circle cx="135.00" cy="333.10" r="4.55"/>
<circle cx="179.19" cy="369.10" r="4.55"/>
<circle cx="223.38" cy="387.50" r="4.55"/>
<circle cx="267.57" cy="399.80" r="4.55"/>
<circle cx="311.75" cy="410.30" r="4.55"/>
<circle cx="355.95" cy="417.30" r="4.55"/>
<circle cx="400.13" cy="422.50" r="4.55"/>
<circle cx="444.33" cy="427.70" r="4.55"/>
<circle cx="488.51" cy="431.90" r="4.55"/>
<circle cx="532.71" cy="435.20" r="4.55"/>
<circle cx="576.89" cy="438.50" r="4.55"/>
<circle cx="621.09" cy="441.40" r="4.55"/>
<circle cx="665.28" cy="444.30" r="4.55"/>
<circle cx="709.47" cy="447.10" r="4.55"/>
<circle cx="753.66" cy="450.50" r="4.55"/>
<circle cx="797.85" cy="452.10" r="4.55"/>
<circle cx="842.03" cy="454.10" r="4.55"/>
<circle cx="886.23" cy="455.70" r="4.55"/>
<circle cx="930.41" cy="457.20" r="4.55"/>
<circle cx="974.61" cy="458.60" r="4.55"/>
</g>
<path d="M112.9 129.5 L114.4 134.2 L115.9 138.3 L117.4 141.7 L118.9 144.4 L120.4 147.0 L121.9 149.7 L123.4 152.5 L124.9 155.3 L126.4 158.1 L127.9 161.0 L129.4 163.9 L130.9 167.0 L132.4 170.1 L133.9 173.1 L135.4 176.0 L136.9 178.7 L138.4 181.3 L139.9 183.7 L141.4 186.1 L142.9 188.3 L144.4 190.5 L145.9 192.5 L147.4 194.5 L148.9 196.5 L150.4 198.4 L151.9 200.3 L153.4 202.0 L154.9 203.6 L156.4 205.0 L157.9 206.4 L159.4 207.6 L160.9 208.7 L162.4 209.8 L163.9 210.8 L165.4 211.8 L166.9 212.7 L168.4 213.7 L169.9 214.6 L171.4 215.6 L172.9 216.7 L174.4 217.7 L175.9 218.8 L177.4 220.0 L178.9 221.1 L180.4 222.2 L181.9 223.2 L183.4 224.2 L184.9 225.0 L186.4 225.8 L187.9 226.5 L189.4 227.1 L190.9 227.6 L192.4 228.1 L193.9 228.6 L195.4 229.0 L196.9 229.4 L198.4 229.7 L199.9 230.1 L201.4 230.4 L202.9 230.6 L204.4 230.9 L205.9 231.1 L207.4 231.4 L208.9 231.6 L210.4 231.9 L211.9 232.1 L213.4 232.3 L214.9 232.5 L216.4 232.7 L217.9 232.9 L219.4 233.1 L220.9 233.2 L222.4 233.4 L223.9 233.6 L225.4 233.8 L226.9 233.9 L228.4 234.1 L229.9 234.2 L231.4 234.4 L232.9 234.5 L234.4 234.7 L235.9 234.8 L237.4 235.0 L238.9 235.1 L240.4 235.3 L241.9 235.4 L243.4 235.6 L244.9 235.7 L246.4 235.9 L247.9 236.1 L249.4 236.2 L250.9 236.4 L252.4 236.5 L253.9 236.7 L255.4 236.8 L256.9 237.0 L258.4 237.1 L259.9 237.3 L261.4 237.4 L262.9 237.6 L264.4 237.7 L265.9 237.8 L267.4 238.0 L268.9 238.1 L270.4 238.3 L271.9 238.4 L273.4 238.5 L274.9 238.6 L276.4 238.8 L277.9 238.9 L279.4 239.0 L280.9 239.1 L282.4 239.2 L283.9 239.3 L285.4 239.4 L286.9 239.5 L288.4 239.6 L289.9 239.7 L291.4 239.8 L292.9 239.9 L294.4 240.0 L295.9 240.0 L297.4 240.1 L298.9 240.2 L300.4 240.3 L301.9 240.3 L303.4 240.4 L304.9 240.5 L306.4 240.5 L307.9 240.6 L309.4 240.7 L310.9 240.7 L312.4 240.8 L313.9 240.9 L315.4 240.9 L316.9 241.0 L318.4 241.0 L319.9 241.1 L321.4 241.2 L322.9 241.2 L324.4 241.3 L325.9 241.3 L327.4 241.4 L328.9 241.4 L330.4 241.5 L331.9 241.6 L333.4 241.6 L334.9 241.7 L336.4 241.8 L337.9 241.8 L339.4 241.9 L340.9 241.9 L342.4 242.0 L343.9 242.1 L345.4 242.1 L346.9 242.2 L348.4 242.3 L349.9 242.3 L351.4 242.4 L352.9 242.5 L354.4 242.5 L355.9 242.6 L357.4 242.6 L358.9 242.7 L360.4 242.8 L361.9 242.8 L363.4 242.9 L364.9 242.9 L366.4 243.0 L367.9 243.0 L369.4 243.1 L370.9 243.2 L372.4 243.2 L373.9 243.3 L375.4 243.3 L376.9 243.4 L378.4 243.4 L379.9 243.5 L381.4 243.5 L382.9 243.6 L384.4 243.6 L385.9 243.6 L387.4 243.7 L388.9 243.7 L390.4 243.8 L391.9 243.8 L393.4 243.9 L394.9 243.9 L396.4 243.9 L397.9 244.0 L399.4 244.0 L400.9 244.1 L402.4 244.1 L403.9 244.1 L405.4 244.2 L406.9 244.2 L408.4 244.3 L409.9 244.3 L411.4 244.3 L412.9 244.4 L414.4 244.4 L415.9 244.4 L417.4 244.5 L418.9 244.5 L420.4 244.6 L421.9 244.6 L423.4 244.6 L424.9 244.7 L426.4 244.7 L427.9 244.7 L429.4 244.8 L430.9 244.8 L432.4 244.8 L433.9 244.9 L435.4 244.9 L436.9 244.9 L438.4 245.0 L439.9 245.0 L441.4 245.1 L442.9 245.1 L444.4 245.1 L445.9 245.2 L447.4 245.2 L448.9 245.2 L450.4 245.3 L451.9 245.3 L453.4 245.3 L454.9 245.4 L456.4 245.4 L457.9 245.4 L459.4 245.4 L460.9 245.5 L462.4 245.5 L463.9 245.5 L465.4 245.6 L466.9 245.6 L468.4 245.6 L469.9 245.7 L471.4 245.7 L472.9 245.7 L474.4 245.8 L475.9 245.8 L477.4 245.8 L478.9 245.9 L480.4 245.9 L481.9 245.9 L483.4 246.0 L484.9 246.0 L486.4 246.0 L487.9 246.1 L489.4 246.1 L490.9 246.1 L492.4 246.2 L493.9 246.2 L495.4 246.2 L496.9 246.3 L498.4 246.3 L499.9 246.3 L501.4 246.3 L502.9 246.4 L504.4 246.4 L505.9 246.4 L507.4 246.4 L508.9 246.5 L510.4 246.5 L511.9 246.5 L513.4 246.5 L514.9 246.6 L516.4 246.6 L517.9 246.6 L519.4 246.6 L520.9 246.7 L522.4 246.7 L523.9 246.7 L525.4 246.7 L526.9 246.7 L528.4 246.8 L529.9 246.8 L531.4 246.8 L532.9 246.8 L534.4 246.8 L535.9 246.8 L537.4 246.9 L538.9 246.9 L540.4 246.9 L541.9 246.9 L543.4 246.9 L544.9 247.0 L546.4 247.0 L547.9 247.0 L549.4 247.0 L550.9 247.0 L552.4 247.1 L553.9 247.1 L555.4 247.1 L556.9 247.1 L558.4 247.2 L559.9 247.2 L561.4 247.2 L562.9 247.2 L564.4 247.3 L565.9 247.3 L567.4 247.3 L568.9 247.3 L570.4 247.4 L571.9 247.4 L573.4 247.4 L574.9 247.5 L576.4 247.5 L577.9 247.5 L579.4 247.5 L580.9 247.6 L582.4 247.6 L583.9 247.6 L585.4 247.7 L586.9 247.7 L588.4 247.7 L589.9 247.7 L591.4 247.8 L592.9 247.8 L594.4 247.8 L595.9 247.9 L597.4 247.9 L598.9 247.9 L600.4 247.9 L601.9 247.9 L603.4 248.0 L604.9 248.0 L606.4 248.0 L607.9 248.0 L609.4 248.1 L610.9 248.1 L612.4 248.1 L613.9 248.1 L615.4 248.1 L616.9 248.2 L618.4 248.2 L619.9 248.2 L621.4 248.2 L622.9 248.3 L624.4 248.3 L625.9 248.3 L627.4 248.3 L628.9 248.3 L630.4 248.3 L631.9 248.4 L633.4 248.4 L634.9 248.4 L636.4 248.4 L637.9 248.4 L639.4 248.5 L640.9 248.5 L642.4 248.5 L643.9 248.5 L645.4 248.5 L646.9 248.5 L648.4 248.6 L649.9 248.6 L651.4 248.6 L652.9 248.6 L654.4 248.6 L655.9 248.6 L657.4 248.6 L658.9 248.7 L660.4 248.7 L661.9 248.7 L663.4 248.7 L664.9 248.7 L666.4 248.7 L667.9 248.7 L669.4 248.7 L670.9 248.8 L672.4 248.8 L673.9 248.8 L675.4 248.8 L676.9 248.8 L678.4 248.8 L679.9 248.8 L681.4 248.8 L682.9 248.9 L684.4 248.9 L685.9 248.9 L687.4 248.9 L688.9 248.9 L690.4 248.9 L691.9 248.9 L693.4 249.0 L694.9 249.0 L696.4 249.0 L697.9 249.0 L699.4 249.0 L700.9 249.0 L702.4 249.0 L703.9 249.1 L705.4 249.1 L706.9 249.1 L708.4 249.1 L709.9 249.1 L711.4 249.1 L712.9 249.1 L714.4 249.2 L715.9 249.2 L717.4 249.2 L718.9 249.2 L720.4 249.2 L721.9 249.2 L723.4 249.2 L724.9 249.3 L726.4 249.3 L727.9 249.3 L729.4 249.3 L730.9 249.3 L732.4 249.3 L733.9 249.3 L735.4 249.3 L736.9 249.3 L738.4 249.3 L739.9 249.3 L741.4 249.4 L742.9 249.4 L744.4 249.4 L745.9 249.4 L747.4 249.4 L748.9 249.4 L750.4 249.4 L751.9 249.4 L753.4 249.4 L754.9 249.4 L756.4 249.4 L757.9 249.4 L759.4 249.4 L760.9 249.4 L762.4 249.4 L763.9 249.4 L765.4 249.4 L766.9 249.5 L768.4 249.5 L769.9 249.5 L771.4 249.5 L772.9 249.5 L774.4 249.5 L775.9 249.5 L777.4 249.5 L778.9 249.5 L780.4 249.5 L781.9 249.5 L783.4 249.6 L784.9 249.6 L786.4 249.6 L787.9 249.6 L789.4 249.6 L790.9 249.6 L792.4 249.6 L793.9 249.7 L795.4 249.7 L796.9 249.7 L798.4 249.7 L799.9 249.7 L801.4 249.7 L802.9 249.8 L804.4 249.8 L805.9 249.8 L807.4 249.8 L808.9 249.8 L810.4 249.8 L811.9 249.8 L813.4 249.9 L814.9 249.9 L816.4 249.9 L817.9 249.9 L819.4 249.9 L820.9 249.9 L822.4 249.9 L823.9 249.9 L825.4 249.9 L826.9 249.9 L828.4 249.9 L829.9 250.0 L831.4 250.0 L832.9 250.0 L834.4 250.0 L835.9 250.0 L837.4 250.0 L838.9 250.0 L840.4 250.0 L841.9 250.0 L843.4 250.0 L844.9 250.0 L846.4 250.0 L847.9 250.0 L849.4 250.0 L850.9 250.0 L852.4 250.1 L853.9 250.1 L855.4 250.1 L856.9 250.1 L858.4 250.1 L859.9 250.1 L861.4 250.1 L862.9 250.1 L864.4 250.1 L865.9 250.1 L867.4 250.1 L868.9 250.1 L870.4 250.1 L871.9 250.1 L873.4 250.1 L874.9 250.1 L876.4 250.2 L877.9 250.2 L879.4 250.2 L880.9 250.2 L882.4 250.2 L883.9 250.2 L885.4 250.2 L886.9 250.2 L888.4 250.2 L889.9 250.2 L891.4 250.2 L892.9 250.2 L894.4 250.2 L895.9 250.2 L897.4 250.3 L898.9 250.3 L900.4 250.3 L901.9 250.3 L903.4 250.3 L904.9 250.3 L906.4 250.3 L907.9 250.3 L909.4 250.3 L910.9 250.3 L912.4 250.3 L913.9 250.3 L915.4 250.3 L916.9 250.3 L918.4 250.3 L919.9 250.4 L921.4 250.4 L922.9 250.4 L924.4 250.4 L925.9 250.4 L927.4 250.4 L928.9 250.4 L930.4 250.4 L931.9 250.4 L933.4 250.4 L934.9 250.4 L936.4 250.4 L937.9 250.4 L939.4 250.4 L940.9 250.4 L942.4 250.5 L943.9 250.5 L945.4 250.5 L946.9 250.5 L948.4 250.5 L949.9 250.5 L951.4 250.5 L952.9 250.5 L954.4 250.5 L955.9 250.5 L957.4 250.5 L958.9 250.5 L960.4 250.5 L961.9 250.5 L963.4 250.6 L964.9 250.6 L966.4 250.6 L967.9 250.6 L969.4 250.6 L970.9 250.6 L972.4 250.6 L973.9 250.6 L975.4 250.6 L976.9 250.6 L978.4 250.6 L979.9 250.6 L981.4 250.6 L982.9 250.6 L984.4 250.7 L985.9 250.7 L987.4 250.7 L988.9 250.7 L990.4 250.7 L991.9 250.7 L993.2 250.7" stroke="#777777" stroke-width="1.6"/>
<g fill="#777777" stroke="#000" stroke-width="0.85" stroke-linejoin="miter">
<rect x="108.30" y="125.40" width="9.2" height="9.2"/>
<rect x="152.49" y="200.90" width="9.2" height="9.2"/>
<rect x="196.68" y="225.80" width="9.2" height="9.2"/>
<rect x="240.87" y="231.30" width="9.2" height="9.2"/>
<rect x="285.06" y="235.20" width="9.2" height="9.2"/>
<rect x="329.25" y="237.15" width="9.2" height="9.2"/>
<rect x="373.44" y="238.90" width="9.2" height="9.2"/>
<rect x="417.63" y="240.10" width="9.2" height="9.2"/>
<rect x="461.82" y="241.10" width="9.2" height="9.2"/>
<rect x="506.01" y="242.00" width="9.2" height="9.2"/>
<rect x="550.20" y="242.60" width="9.2" height="9.2"/>
<rect x="594.39" y="243.40" width="9.2" height="9.2"/>
<rect x="638.58" y="244.00" width="9.2" height="9.2"/>
<rect x="682.77" y="244.40" width="9.2" height="9.2"/>
<rect x="726.96" y="244.80" width="9.2" height="9.2"/>
<rect x="771.15" y="245.00" width="9.2" height="9.2"/>
<rect x="815.34" y="245.40" width="9.2" height="9.2"/>
<rect x="859.53" y="245.60" width="9.2" height="9.2"/>
<rect x="903.72" y="245.80" width="9.2" height="9.2"/>
<rect x="947.91" y="246.00" width="9.2" height="9.2"/>
</g>
</g>
<g fill="#555555" stroke="#555555" stroke-width="0.35" font-size="25.6px">
<text x="114.80" y="528.7" text-anchor="middle">0</text>
<text x="335.75" y="528.7" text-anchor="middle">50</text>
<text x="556.70" y="528.7" text-anchor="middle">100</text>
<text x="777.65" y="528.7" text-anchor="middle">150</text>
<text x="998.60" y="528.7" text-anchor="middle">200</text>
<text x="50.90" y="26.30">10<tspan font-size="18px" dy="-13.6">1</tspan></text>
<text x="50.90" y="146.30">10<tspan font-size="18px" dy="-13.6">0</tspan></text>
<text x="44.40" y="265.90">10<tspan font-size="18px" dy="-13.6">-1</tspan></text>
<text x="44.40" y="385.70">10<tspan font-size="18px" dy="-13.6">-2</tspan></text>
<text x="44.40" y="505.60">10<tspan font-size="18px" dy="-13.6">-3</tspan></text>
</g>
<g fill="#555555" font-size="38px" text-anchor="middle">
<text x="556.0" y="570.45">Number of Experiments</text>
<text x="556.3" y="613.1">(20 shots each)</text>
<text transform="translate(29.0,254.5) rotate(-90)">Risk</text>
</g>
<rect x="571.6" y="29.7" width="414.2" height="137.1" fill="#E5E5E5" stroke="#fff" stroke-width="1.2"/>
<line x1="579" y1="47.4" x2="628.2" y2="47.4" stroke="#E24A33" stroke-width="3.5"/>
<line x1="580" y1="80.0" x2="627.3" y2="80.0" stroke="#348ABD" stroke-width="1.45"/>
<g fill="#348ABD" stroke="#000" stroke-width="0.85"><polygon points="603.70,70.50 601.57,77.06 594.66,77.06 600.25,81.12 598.12,87.69 603.70,83.63 609.28,87.69 607.15,81.12 612.74,77.06 605.83,77.06"/></g>
<line x1="580" y1="112.7" x2="627.3" y2="112.7" stroke="#988ED5" stroke-width="1.45"/>
<circle cx="603.7" cy="112.7" r="4.55" fill="#988ED5" stroke="#000" stroke-width="1.0"/>
<line x1="580" y1="145.7" x2="627.3" y2="145.7" stroke="#777777" stroke-width="1.45"/>
<rect x="599.10" y="141.10" width="9.2" height="9.2" fill="#777777" stroke="#000" stroke-width="0.85"/>
<g fill="#000" stroke="#000" stroke-width="0.25" font-size="22.8px">
<text x="644.80" y="55.20">Uninsightful</text>
<text x="644.50" y="88.00">Insightful (unbiased)</text>
<text x="644.50" y="120.70">Insightful (biased)</text>
<text x="644.50" y="153.50">Insightful (nearly orthogonal)</text>
</g>
</svg></body></html>
